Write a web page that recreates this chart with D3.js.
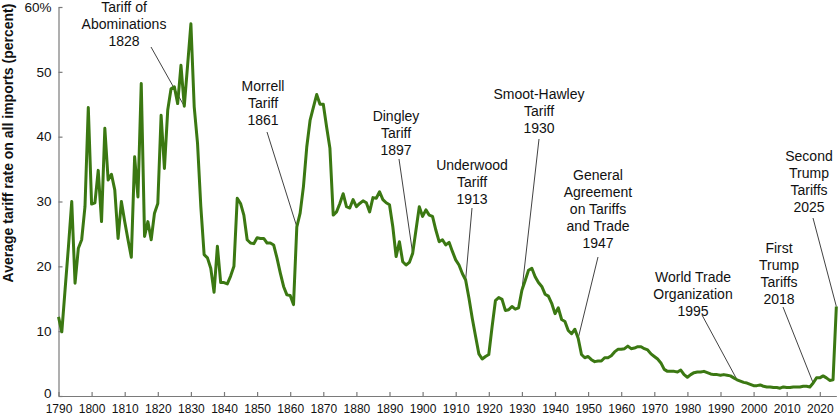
<!DOCTYPE html>
<html>
<head>
<meta charset="utf-8">
<script src="https://cdn.jsdelivr.net/npm/d3@7"></script>
<style>
  body { margin: 0; background: #fff; }
  svg { display: block; font-family: "Liberation Sans", Arial, Helvetica, sans-serif; }
</style>
</head>
<body>
<svg width="839" height="418"></svg>
<script>
// average tariff rate on all imports, 1790-2025 (one value per year)
var firstYear = 1790;
var rates = [
  12.2, 9.9, 16.5, 23.0, 30.0, 17.4, 22.8, 24.1, 29.2, 44.5,   // 1790s
  29.6, 29.8, 34.8, 26.9, 41.3, 33.3, 34.2, 31.8, 24.3, 30.0,   // 1800s
  26.9, 24.1, 21.4, 36.9, 30.7, 48.2, 24.6, 26.9, 24.1, 28.2,   // 1810s
  29.7, 43.3, 35.1, 44.1, 47.4, 47.7, 45.1, 51.0, 44.7, 51.0,   // 1820s
  57.4, 44.6, 39.0, 29.2, 21.8, 21.3, 19.7, 16.0, 23.1, 17.5,   // 1830s
  17.5, 17.3, 18.5, 20.0, 30.5, 29.7, 27.9, 24.1, 23.6, 23.5,   // 1840s
  24.4, 24.3, 24.3, 23.6, 23.6, 23.3, 21.3, 19.0, 16.9, 15.6,   // 1850s
  15.5, 14.1, 26.1, 28.2, 32.3, 38.4, 42.5, 44.5, 46.5, 45.0,   // 1860s
  45.0, 41.5, 38.2, 27.9, 28.4, 29.7, 31.2, 29.2, 29.0, 30.3,   // 1870s
  29.2, 29.7, 30.1, 29.8, 28.4, 30.6, 30.5, 31.5, 30.3, 29.8,   // 1880s
  29.5, 26.1, 21.5, 23.8, 20.7, 20.2, 20.6, 22.0, 25.6, 29.2,   // 1890s
  27.7, 28.7, 27.9, 27.7, 25.6, 23.8, 24.1, 23.3, 23.7, 22.3,   // 1900s
  21.0, 20.2, 18.9, 17.9, 15.1, 12.0, 9.2, 6.5, 5.7, 6.1,       // 1910s
  6.4, 10.7, 14.7, 15.2, 14.9, 13.2, 13.3, 13.8, 13.4, 13.6,    // 1920s
  16.3, 17.8, 19.4, 19.7, 18.4, 17.5, 16.9, 15.7, 15.4, 14.3,   // 1930s
  12.7, 13.6, 11.8, 11.5, 10.1, 9.6, 10.3, 8.9, 6.4, 5.9,       // 1940s
  6.1, 5.6, 5.3, 5.4, 5.4, 5.9, 5.9, 6.2, 6.8, 7.2,             // 1950s
  7.2, 7.3, 7.7, 7.3, 7.4, 7.6, 7.6, 7.3, 7.1, 6.5,             // 1960s
  6.1, 5.7, 5.1, 4.1, 3.8, 3.8, 3.8, 3.7, 4.0, 3.3,             // 1970s
  2.9, 3.3, 3.6, 3.7, 3.7, 3.8, 3.6, 3.4, 3.3, 3.3,             // 1980s
  3.2, 3.3, 3.2, 3.1, 2.8, 2.5, 2.3, 2.1, 2.0, 1.8,             // 1990s
  1.6, 1.6, 1.7, 1.5, 1.4, 1.4, 1.3, 1.3, 1.2, 1.4,             // 2000s
  1.3, 1.3, 1.4, 1.4, 1.4, 1.5, 1.5, 1.4, 2.0, 2.8,             // 2010s
  2.8, 3.1, 2.8, 2.4, 2.5, 13.8                                 // 2020s
];

var xTicks = d3.range(1790, 2021, 10);
var yTicks = [0, 10, 20, 30, 40, 50, 60];

// annotated tariff acts
var annoLabels = [
  ["Tariff of", "Abominations", "1828"],
  ["Morrell", "Tariff", "1861"],
  ["Dingley", "Tariff", "1897"],
  ["Underwood", "Tariff", "1913"],
  ["Smoot-Hawley", "Tariff", "1930"],
  ["General", "Agreement", "on Tariffs", "and Trade", "1947"],
  ["World Trade", "Organization", "1995"],
  ["First", "Trump", "Tariffs", "2018"],
  ["Second", "Trump", "Tariffs", "2025"]
];
// year on the line where each leader ends
var annoPointYears = [1828, 1862, 1897, 1913, 1930, 1947, 1995, 2018, 2025];

// layout only: text centre / first baseline, and where each leader starts
var annoTextPos = [[124, 12], [263, 91], [396, 121], [472, 170], [539, 99],
                   [598, 180], [693, 282], [779, 253], [809, 161]];
var annoLeaderStart = [[151, 47], [267, 132], [399, 159], [472, 208], [539, 139],
                       [598, 257], [702, 315], [783, 307], [813, 218]];

var data = rates.map(function(v, i) { return {year: firstYear + i, value: v}; });

var svg = d3.select("svg"),
    left = 58.5,
    bottom = 396;

var xScale = d3.scaleLinear().domain([1790, 2025]).range([left, left + 235 * 3.31]),
    yScale = d3.scaleLinear().domain([0, 60]).range([bottom, 7]);

// x axis
var xAxis = svg.append("g")
    .attr("transform", "translate(0," + bottom + ")")
    .call(d3.axisBottom(xScale).tickValues(xTicks).tickFormat(d3.format("d"))
      .tickSizeInner(-4).tickSizeOuter(0).tickPadding(8));

// y axis
var yAxis = svg.append("g")
    .attr("transform", "translate(" + left + ",0)")
    .call(d3.axisLeft(yScale).tickValues(yTicks)
      .tickFormat(function(d) { return d == 60 ? "60%" : d; })
      .tickSizeInner(-4).tickSizeOuter(0).tickPadding(7));

svg.selectAll(".domain, .tick line").attr("stroke", "#7a7a7a").attr("stroke-width", 1.2);
xAxis.selectAll("text").style("font-size", "12px").attr("fill", "#111");
yAxis.selectAll("text").style("font-size", "13.5px").attr("fill", "#111");
// keep the zero label clear of the first year label
yAxis.selectAll(".tick").filter(function(d) { return d == 0; }).select("text").attr("dy", "0.1em");

svg.append("text")
    .attr("transform", "translate(12.5,143) rotate(-90)")
    .attr("text-anchor", "middle")
    .style("font-size", "14px")
    .style("font-weight", "bold")
    .attr("fill", "#111")
    .text("Average tariff rate on all imports (percent)");

// leaders (drawn under the line)
var valueAt = function(yr) { return rates[yr - firstYear]; };
svg.selectAll(".leader")
    .data(annoPointYears)
    .enter().append("line")
    .attr("class", "leader")
    .attr("x1", function(d, i) { return annoLeaderStart[i][0]; })
    .attr("y1", function(d, i) { return annoLeaderStart[i][1]; })
    .attr("x2", function(d) { return xScale(d); })
    .attr("y2", function(d) { return yScale(valueAt(d)); })
    .attr("stroke", "#111")
    .attr("stroke-width", 0.8);

// the tariff line
var line = d3.line()
    .x(function(d) { return xScale(d.year); })
    .y(function(d) { return yScale(d.value); });

svg.append("path")
    .datum(data)
    .attr("d", line)
    .attr("fill", "none")
    .attr("stroke", "#3b7812")
    .attr("stroke-width", 3)
    .attr("stroke-linejoin", "round");

// annotation text
annoLabels.forEach(function(lines, i) {
    var t = svg.append("text")
        .attr("text-anchor", "middle")
        .style("font-size", "14px")
        .attr("fill", "#111");
    lines.forEach(function(s, j) {
        t.append("tspan")
         .attr("x", annoTextPos[i][0])
         .attr("y", annoTextPos[i][1] + j * 17)
         .text(s);
    });
});
</script>
</body>
</html>
